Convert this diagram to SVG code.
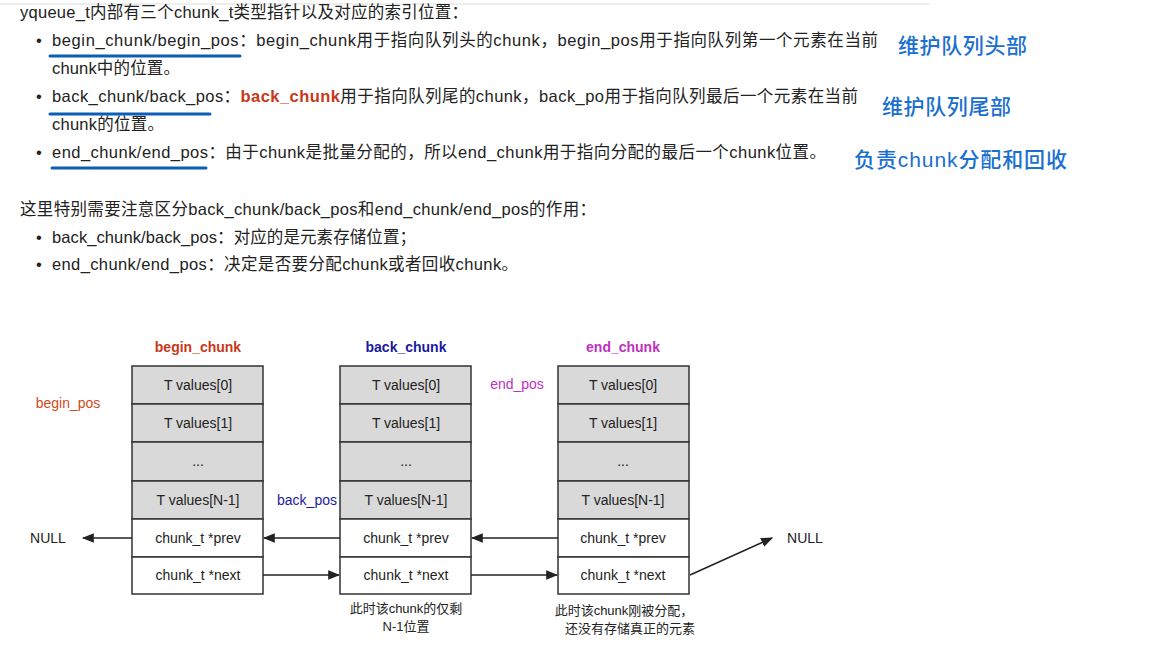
<svg xmlns="http://www.w3.org/2000/svg" width="1154" height="668" viewBox="0 0 1154 668">
<style>
.t{font-family:"Liberation Sans","Noto Sans CJK SC",sans-serif;font-size:16.5px;fill:#222}
.b{font-family:"Liberation Sans","Noto Sans CJK SC",sans-serif;font-size:21px;fill:#1a6fd0;font-weight:500}
.c{font-family:"Liberation Sans","Noto Sans CJK SC",sans-serif;font-size:14px;fill:#222;text-anchor:middle}
.s{font-family:"Liberation Sans","Noto Sans CJK SC",sans-serif;font-size:13px;fill:#222;text-anchor:middle}
.g{fill:#d9d9d9;stroke:#333;stroke-width:1.5}
.w{fill:#fff;stroke:#333;stroke-width:1.5}
.u{stroke:#0b5db5;stroke-width:3;stroke-linecap:round}
.a{stroke:#222;stroke-width:1.5;fill:none;marker-end:url(#ar)}
</style>
<defs><marker id="ar" viewBox="0 0 10 10" refX="9" refY="5" markerWidth="8" markerHeight="8" orient="auto"><path d="M0,1 L10,5 L0,9 z" fill="#222"/></marker></defs>
<rect width="1154" height="668" fill="#fff"/>
<line x1="0" y1="4" x2="930" y2="4" stroke="#eee" stroke-width="2"/>
<text class="t" x="20" y="18" textLength="448">yqueue_t内部有三个chunk_t类型指针以及对应的索引位置：</text>
<text class="t" x="36" y="46">•</text>
<text class="t" x="52" y="46" textLength="826">begin_chunk/begin_pos：begin_chunk用于指向队列头的chunk，begin_pos用于指向队列第一个元素在当前</text>
<text class="t" x="52" y="74" textLength="128">chunk中的位置。</text>
<text class="t" x="36" y="102">•</text>
<text class="t" x="52" y="102" textLength="806">back_chunk/back_pos：<tspan fill="#c8381a" font-weight="bold">back_chunk</tspan>用于指向队列尾的chunk，back_po用于指向队列最后一个元素在当前</text>
<text class="t" x="52" y="130" textLength="112">chunk的位置。</text>
<text class="t" x="36" y="158">•</text>
<text class="t" x="52" y="158" textLength="774">end_chunk/end_pos：由于chunk是批量分配的，所以end_chunk用于指向分配的最后一个chunk位置。</text>
<line class="u" x1="50" y1="56" x2="240" y2="56"/>
<line class="u" x1="50" y1="114" x2="210" y2="114"/>
<line class="u" x1="52" y1="168" x2="206" y2="168"/>
<text class="b" x="898" y="53" textLength="129">维护队列头部</text>
<text class="b" x="882" y="114" textLength="129">维护队列尾部</text>
<text class="b" x="854" y="167" textLength="213">负责chunk分配和回收</text>
<text class="t" x="20" y="215" textLength="576">这里特别需要注意区分back_chunk/back_pos和end_chunk/end_pos的作用：</text>
<text class="t" x="36" y="243">•</text>
<text class="t" x="52" y="243" textLength="364">back_chunk/back_pos：对应的是元素存储位置；</text>
<text class="t" x="36" y="270">•</text>
<text class="t" x="52" y="270" textLength="466">end_chunk/end_pos：决定是否要分配chunk或者回收chunk。</text>
<g id="labels">
<text class="c" x="198" y="352" font-weight="bold" style="fill:#c8381a">begin_chunk</text>
<text class="c" x="406" y="352" style="fill:#1a1aa0" font-weight="bold">back_chunk</text>
<text class="c" x="623" y="352" style="fill:#c030c0" font-weight="bold">end_chunk</text>
<text class="c" x="68" y="408" style="fill:#d04a20">begin_pos</text>
<text class="c" x="517" y="389" style="fill:#c030c0">end_pos</text>
<text class="c" x="307" y="505" style="fill:#1a1aa0">back_pos</text>
<text class="c" x="48" y="543">NULL</text>
<text class="c" x="805" y="543">NULL</text>
<text class="s" x="406" y="613">此时该chunk的仅剩</text>
<text class="s" x="406" y="631">N-1位置</text>
<text class="s" x="624" y="615">此时该chunk刚被分配，</text>
<text class="s" x="630" y="633">还没有存储真正的元素</text>
</g>
<g id="chunk1">
<rect class="g" x="132" y="366" width="131" height="38"/><rect class="g" x="132" y="404" width="131" height="38"/><rect class="g" x="132" y="442" width="131" height="39"/><rect class="g" x="132" y="481" width="131" height="38"/><rect class="w" x="132" y="519" width="131" height="38"/><rect class="w" x="132" y="557" width="131" height="37"/>
<text class="c" x="198" y="390">T values[0]</text><text class="c" x="198" y="428">T values[1]</text><text class="c" x="198" y="466">...</text><text class="c" x="198" y="505">T values[N-1]</text><text class="c" x="198" y="543">chunk_t *prev</text><text class="c" x="198" y="580">chunk_t *next</text>
</g>
<g id="chunk2">
<rect class="g" x="340" y="366" width="131" height="38"/><rect class="g" x="340" y="404" width="131" height="38"/><rect class="g" x="340" y="442" width="131" height="39"/><rect class="g" x="340" y="481" width="131" height="38"/><rect class="w" x="340" y="519" width="131" height="38"/><rect class="w" x="340" y="557" width="131" height="37"/>
<text class="c" x="406" y="390">T values[0]</text><text class="c" x="406" y="428">T values[1]</text><text class="c" x="406" y="466">...</text><text class="c" x="406" y="505">T values[N-1]</text><text class="c" x="406" y="543">chunk_t *prev</text><text class="c" x="406" y="580">chunk_t *next</text>
</g>
<g id="chunk3">
<rect class="g" x="558" y="366" width="131" height="38"/><rect class="g" x="558" y="404" width="131" height="38"/><rect class="g" x="558" y="442" width="131" height="39"/><rect class="g" x="558" y="481" width="131" height="38"/><rect class="w" x="558" y="519" width="131" height="38"/><rect class="w" x="558" y="557" width="131" height="37"/>
<text class="c" x="623" y="390">T values[0]</text><text class="c" x="623" y="428">T values[1]</text><text class="c" x="623" y="466">...</text><text class="c" x="623" y="505">T values[N-1]</text><text class="c" x="623" y="543">chunk_t *prev</text><text class="c" x="623" y="580">chunk_t *next</text>
</g>
<g id="connectors">
<line class="a" x1="132" y1="538" x2="83" y2="538"/>
<line class="a" x1="340" y1="538" x2="264" y2="538"/>
<line class="a" x1="558" y1="538" x2="472" y2="538"/>
<line class="a" x1="263" y1="575" x2="339" y2="575"/>
<line class="a" x1="471" y1="575" x2="557" y2="575"/>
<line class="a" x1="690" y1="575" x2="772" y2="538"/>
</g>
</svg>
